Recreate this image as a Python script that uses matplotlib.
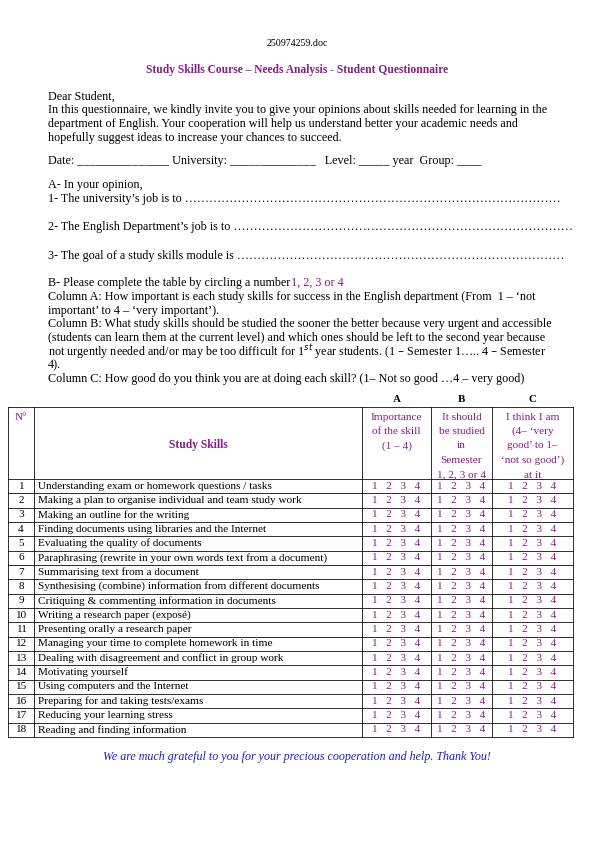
import matplotlib
matplotlib.use("Agg")
import matplotlib.pyplot as plt

PURPLE = "#8b1a8b"
BLUE = "#1f1fcc"

title = "Study Skills Course \u2013 Needs Analysis - Student Questionnaire"
intro = [
    "Dear Student,",
    "In this questionnaire, we kindly invite you to give your opinions about skills needed for learning in the",
    "department of English. Your cooperation will help us understand better your academic needs and",
    "hopefully suggest ideas to increase your chances to succeed.",
]
part_a = [
    (185, "A- In your opinion,"),
    (199, "1- The university\u2019s job is to " + "\u2026" * 31),
    (227, "2- The English Department\u2019s job is to " + "\u2026" * 28),
    (256, "3- The goal of a study skills module is " + "\u2026" * 27),
]
part_b = [
    "Column A: How important is each study skills for success in the English department (From  1 \u2013 \u2018not",
    "important\u2019 to 4 \u2013 \u2018very important\u2019).",
    "Column B: What study skills should be studied the sooner the better because very urgent and accessible",
    "(students can learn them at the current level) and which ones should be left to the second year because",
    "not urgently needed and/or may be too difficult for 1$^{st}$ year students. (1 \u2013 Semester 1\u2026.. 4 \u2013 Semester",
    "4).",
    "Column C: How good do you think you are at doing each skill? (1\u2013 Not so good \u20264 \u2013 very good)",
]
skills = [
    "Understanding exam or homework questions / tasks",
    "Making a plan to organise individual and team study work",
    "Making an outline for the writing",
    "Finding documents using libraries and the Internet",
    "Evaluating the quality of documents",
    "Paraphrasing (rewrite in your own words text from a document)",
    "Summarising text from a document",
    "Synthesising (combine) information from different documents",
    "Critiquing & commenting information in documents",
    "Writing a research paper (expos\u00e9)",
    "Presenting orally a research paper",
    "Managing your time to complete homework in time",
    "Dealing with disagreement and conflict in group work",
    "Motivating yourself",
    "Using computers and the Internet",
    "Preparing for and taking tests/exams",
    "Reducing your learning stress",
    "Reading and finding information",
]
col_letters = ["A", "B", "C"]
col_heads = [
    ["Importance", "of the skill", "(1 \u2013 4)"],
    ["It should", "be studied", "in", "Semester", "1, 2, 3 or 4"],
    ["I think I am", "(4\u2013 \u2018very", "good\u2019 to 1\u2013", "\u2018not so good\u2019)", "at it"],
]

plt.rcParams["font.family"] = ["Liberation Serif", "DejaVu Serif"]
fig = plt.figure(figsize=(595 / 72, 842 / 72), dpi=72)
ax = fig.add_axes([0, 0, 1, 1])
ax.set_xlim(0, 595)
ax.set_ylim(842, 0)
ax.axis("off")

fs = 12.1
ax.text(297, 43, "250974259.doc", ha="center", va="center", fontsize=10)
ax.text(297, 70, title, ha="center", va="center", fontsize=11.5, color=PURPLE, weight="bold")
for i, line in enumerate(intro):
    ax.text(48, 97 + i * 13.5, line, va="center", fontsize=fs)
ax.text(48, 161, "Date: _______________ University: ______________   Level: _____ year  Group: ____",
        va="center", fontsize=fs)
for y, line in part_a:
    ax.text(48, y, line, va="center", fontsize=fs)
ax.text(48, 283, "B- Please complete the table by circling a number ", va="center", fontsize=fs)
ax.text(291, 283, "1, 2, 3 or 4", va="center", fontsize=fs, color=PURPLE)
for i, line in enumerate(part_b):
    ax.text(48, 297 + i * 13.6, line, va="center", fontsize=fs)

# table
xs = [8, 34, 362, 431, 492, 573]
top, head_bot = 407, 479
row_h = (737 - head_bot) / len(skills)
bottom = head_bot + row_h * len(skills)
lw = 0.8
for x in xs:
    ax.plot([x, x], [top, bottom], color="black", lw=lw)
ax.plot([xs[0], xs[-1]], [top, top], color="black", lw=lw)
for i in range(len(skills) + 1):
    y = head_bot + i * row_h
    ax.plot([xs[0], xs[-1]], [y, y], color="black", lw=lw)

tfs = 11.3
for j, letter in enumerate(col_letters):
    cx = (xs[j + 2] + xs[j + 3]) / 2
    ax.text(cx, 400, letter, ha="center", va="center", fontsize=11, weight="bold")
    for k, line in enumerate(col_heads[j]):
        ax.text(cx, 417 + k * 14.5, line, ha="center", va="center", fontsize=tfs, color=PURPLE)
ax.text(21, 417, "N\u00b0", ha="center", va="center", fontsize=tfs, color=PURPLE)
ax.text(198, 445, "Study Skills", ha="center", va="center", fontsize=11.5, color=PURPLE, weight="bold")

for i, skill in enumerate(skills):
    cy = head_bot + (i + 0.5) * row_h
    ax.text(21, cy, str(i + 1), ha="center", va="center", fontsize=tfs)
    ax.text(38, cy, skill, va="center", fontsize=tfs)
    for j in range(3):
        cx = (xs[j + 2] + xs[j + 3]) / 2
        ax.text(cx, cy, "1   2   3   4", ha="center", va="center", fontsize=tfs, color=PURPLE)

ax.text(297, 757, "We are much grateful to you for your precious cooperation and help. Thank You!",
        ha="center", va="center", fontsize=12, color=BLUE, style="italic")

fig.savefig("out.png", dpi=72)
